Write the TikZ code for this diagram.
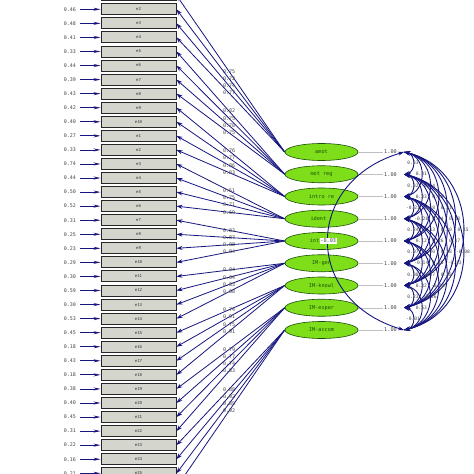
\documentclass[tikz,border=0pt]{standalone}
\usepackage{fontspec}
\newfontfamily\dmono{DejaVu Sans Mono}
\usetikzlibrary{arrows.meta,shapes.geometric}
\definecolor{navyline}{RGB}{22,22,128}
\definecolor{boxfill}{RGB}{212,213,205}
\definecolor{latgreen}{RGB}{125,222,25}
\definecolor{latedge}{RGB}{30,80,10}
\definecolor{txtgray}{RGB}{70,70,70}
\pgfdeclarelayer{back}
\pgfsetlayers{back,main}
\begin{document}
\begin{tikzpicture}[x=1pt,y=-1pt,
 errlab/.style={font=\dmono\fontsize{5}{5}\selectfont,text=txtgray,anchor=east,inner sep=0pt},
 obsbox/.style={draw=black!85,fill=boxfill,line width=0.9pt,minimum width=75pt,minimum height=11pt,inner sep=0pt,font=\dmono\fontsize{4}{4}\selectfont,text=black!80},
 latent/.style={ellipse,draw=latedge,fill=latgreen,line width=0.6pt,minimum width=73pt,minimum height=17pt,inner sep=0pt,font=\dmono\fontsize{5.2}{5.2}\selectfont,text=latedge},
 loadline/.style={draw=navyline,line width=0.8pt,-{Stealth[length=6pt,width=4pt]}},
 loadlab/.style={font=\dmono\fontsize{5}{5}\selectfont,text=txtgray,inner sep=0pt},
 errarrow/.style={draw=navyline,line width=0.8pt,-{Stealth[length=7pt,width=3pt]}},
 unitlab/.style={font=\dmono\fontsize{5.2}{5.2}\selectfont,text=txtgray,inner sep=1pt},
 unitline/.style={draw=gray!50,line width=0.4pt},
 corr/.style={draw=navyline,line width=0.9pt,{Stealth[length=6pt,width=4pt]}-{Stealth[length=6pt,width=4pt]}},
 corrlab/.style={font=\dmono\fontsize{4.6}{4.6}\selectfont,text=txtgray,inner sep=0pt},
 bigcorrlab/.style={font=\dmono\fontsize{5.2}{5.2}\selectfont,text=txtgray,fill=white,inner sep=0.6pt}
]
\useasboundingbox (0,0) rectangle (474,474);
\begin{pgfonlayer}{back}
\fill[white] (0,0) rectangle (474,474);
\end{pgfonlayer}

% observed variables with error variances
\foreach \k/\v/\lab in {-1//,0/0.46/e2,1/0.48/e3,2/0.41/e4,3/0.33/e5,4/0.44/e6,5/0.39/e7,6/0.43/e8,7/0.42/e9,8/0.40/e10,
  9/0.27/e1,10/0.33/e2,11/0.74/e3,12/0.44/e4,13/0.50/e5,14/0.52/e6,15/0.31/e7,16/0.25/e8,17/0.23/e9,18/0.29/e10,
  19/0.30/e11,20/0.59/e12,21/0.30/e13,22/0.53/e14,23/0.45/e15,24/0.18/e16,25/0.43/e17,26/0.18/e18,27/0.38/e19,28/0.40/e20,
  29/0.45/e21,30/0.31/e22,31/0.22/e23,32/0.16/e24,33/0.21/e25,34//}{
  \pgfmathsetmacro\yy{9.3+14.06*\k}
  \node[obsbox] (o\k) at (138.5,\yy) {\lab};
  \coordinate (ee\k) at (80,\yy);
  \draw[errarrow] (ee\k) -- (o\k.west);
  \node[errlab] (ev\k) at (76,\yy) {\v};
}

% latent variables
\foreach \i/\txt in {0/amot,1/mot reg,2/intro re,3/ident r,4/int\rule{14pt}{0pt},5/IM-gen,6/IM-knowl,7/IM-exper,8/IM-accom}{
  \pgfmathsetmacro\yy{152+22.25*\i}
  \node[latent] (L\i) at (321.5,\yy) {\txt};
  \node[unitlab] (u\i) at (390.5,\yy) {1.00};
  \draw[unitline] (L\i.east) -- (u\i.west);
  \coordinate (c\i) at (404,\yy);
}

% loadings
\begin{pgfonlayer}{back}
\foreach \f/\a/\b/\c/\d in {0/0.75/0.72/0.74/0.77,1/0.82/0.75/0.78/0.75,2/0.76/0.77/0.86/0.83,
  3/0.51/0.75/0.71/0.69,4/0.83/0.87/0.88/0.84,5/0.84/0.64/0.83/0.68,6/0.74/0.91/0.75/0.91,
  7/0.79/0.77/0.74/0.83,8/0.88/0.92/0.89/0.92}{
  \pgfmathtruncatemacro\ra{4*\f-1}
  \pgfmathtruncatemacro\rb{4*\f}
  \pgfmathtruncatemacro\rc{4*\f+1}
  \pgfmathtruncatemacro\rd{4*\f+2}
  \draw[loadline] (L\f.west) -- (o\ra.east) node[pos=0.514,loadlab]{\a};
  \draw[loadline] (L\f.west) -- (o\rb.east) node[pos=0.514,loadlab]{\b};
  \draw[loadline] (L\f.west) -- (o\rc.east) node[pos=0.514,loadlab]{\c};
  \draw[loadline] (L\f.west) -- (o\rd.east) node[pos=0.514,loadlab]{\d};
}
\end{pgfonlayer}

% correlations (right side)
\foreach \i/\j/\v in {0/1/0.33,0/2/0.31,1/2/0.32,0/3/0.24,1/3/0.33,0/4/0.28,
  2/3/-0.21,1/4/0.18,0/5/0.21,2/4/-0.20,1/5/0.24,0/6/0.18,
  3/4/0.24,2/5/0.13,1/6/0.20,0/7/0.15,3/5/0.12,2/6/0.26,1/7/0.17,
  4/5/0.07,3/6/0.20,2/7/0.18,1/8/-0.08,4/6/-0.14,3/7/0.25,2/8/-0.13,
  5/6/0.08,4/7/0.37,3/8/0.38,5/7/0.32,4/8/-0.14,6/7/0.23,5/8/-0.26,
  6/8/0.53,7/8/-0.01}{
  \pgfmathsetmacro\cx{12+0.5*(22.25*(\j-\i)-22.25)}
  \pgfmathsetmacro\dy{0.12*22.25*(\j-\i)}
  \draw[corr] (c\i) .. controls +(\cx,\dy) and +(\cx,-\dy) .. (c\j)
    node[pos=0.5,corrlab]{\v};
}

% correlation amot -- IM-accom (left side)
\draw[corr] (c0) .. controls +(-101,30) and +(-101,-30) .. (c8)
  node[pos=0.5,bigcorrlab]{-0.03};
\end{tikzpicture}
\end{document}
